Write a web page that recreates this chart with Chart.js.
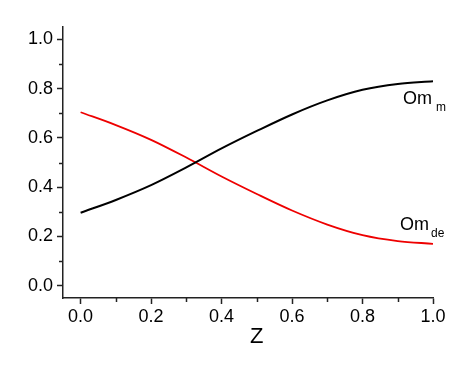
<!DOCTYPE html>
<html>
<head>
<meta charset="utf-8">
<script src="https://cdn.jsdelivr.net/npm/chart.js@4/dist/chart.umd.min.js"></script>
<style>
html,body{margin:0;padding:0;background:#fff;}
#c{display:block;}
</style>
</head>
<body>
<canvas id="c" width="474" height="382"></canvas>
<script>
// Data
const zValues = [0.0, 0.1, 0.2, 0.3, 0.4, 0.5, 0.6, 0.7, 0.8, 0.9, 1.0];
const omM  = [0.296, 0.348, 0.408, 0.480, 0.557, 0.628, 0.695, 0.752, 0.795, 0.819, 0.830];
const omDE = [0.704, 0.652, 0.592, 0.520, 0.443, 0.372, 0.305, 0.248, 0.205, 0.181, 0.170];
const xTicks = [0.0, 0.2, 0.4, 0.6, 0.8, 1.0];
const yTicks = [0.0, 0.2, 0.4, 0.6, 0.8, 1.0];
const seriesNames = ['Om_m', 'Om_de'];
const axisTitleX = 'Z';

const FONT = '"Liberation Sans", Arial, sans-serif';

const minorTicks = {
  id: 'minorTicks',
  afterDraw(chart) {
    const ctx = chart.ctx;
    const xs = chart.scales.x, ys = chart.scales.y;
    const ca = chart.chartArea;
    ctx.save();
    ctx.strokeStyle = '#222';
    ctx.lineWidth = 1.5;
    for (let v = 0.1; v < 1.0; v += 0.2) {
      const px = Math.round(xs.getPixelForValue(v)) + 0.5;
      ctx.beginPath(); ctx.moveTo(px, ca.bottom); ctx.lineTo(px, ca.bottom + 4); ctx.stroke();
      const py = Math.round(ys.getPixelForValue(v)) + 0.5;
      ctx.beginPath(); ctx.moveTo(ca.left, py); ctx.lineTo(ca.left - 4, py); ctx.stroke();
    }
    // Series labels
    ctx.fillStyle = '#000';
    ctx.textBaseline = 'alphabetic';
    const xr = xs.getPixelForValue(1.0);
    // Om_m
    ctx.font = '18px ' + FONT;
    ctx.textAlign = 'right';
    let yb = ys.getPixelForValue(0.7376);
    ctx.fillText('Om', xr - 1, yb);
    ctx.font = '12px ' + FONT;
    ctx.textAlign = 'left';
    ctx.fillText('m', xr + 3, yb + 7);
    // Om_de
    ctx.font = '18px ' + FONT;
    ctx.textAlign = 'right';
    yb = ys.getPixelForValue(0.226);
    ctx.fillText('Om', xr - 4, yb);
    ctx.font = '12px ' + FONT;
    ctx.textAlign = 'left';
    ctx.fillText('de', xr - 2, yb + 7);
    // Axis title
    ctx.font = '22px ' + FONT;
    ctx.textAlign = 'center';
    ctx.fillText(axisTitleX, xs.getPixelForValue(0.5), ca.bottom + 45);
    ctx.restore();
  }
};

new Chart(document.getElementById('c'), {
  type: 'line',
  data: {
    datasets: [
      { label: seriesNames[0], data: zValues.map((z, i) => ({x: z, y: omM[i]})),
        borderColor: '#000000', borderWidth: 2, pointRadius: 0, cubicInterpolationMode: 'monotone', fill: false },
      { label: seriesNames[1], data: zValues.map((z, i) => ({x: z, y: omDE[i]})),
        borderColor: '#ee0000', borderWidth: 1.8, pointRadius: 0, cubicInterpolationMode: 'monotone', fill: false }
    ]
  },
  options: {
    responsive: false,
    animation: false,
    devicePixelRatio: 1,
    layout: { padding: { left: 0, top: 27, right: 41, bottom: 0 } },
    plugins: { legend: { display: false }, tooltip: { enabled: false } },
    scales: {
      x: {
        type: 'linear', min: -0.05, max: 1.0,
        afterBuildTicks: s => { s.ticks = xTicks.map(v => ({value: v})); },
        afterFit: s => { s.height = 84; },
        border: { display: true, color: '#222', width: 1.5 },
        grid: { drawOnChartArea: false, drawTicks: true, tickLength: 6, tickColor: '#222', tickWidth: 1.5 },
        ticks: { color: '#000', font: { size: 18, family: FONT }, padding: 2, maxRotation: 0,
                 callback: v => Number(v).toFixed(1) }
      },
      y: {
        type: 'linear', min: -0.05, max: 1.05,
        afterBuildTicks: s => { s.ticks = yTicks.map(v => ({value: v})); },
        afterFit: s => { s.width = 63; },
        border: { display: true, color: '#222', width: 1.5 },
        grid: { drawOnChartArea: false, drawTicks: true, tickLength: 6, tickColor: '#222', tickWidth: 1.5 },
        ticks: { color: '#000', font: { size: 18, family: FONT }, padding: 4,
                 callback: v => Number(v).toFixed(1) }
      }
    }
  },
  plugins: [minorTicks]
});
</script>
</body>
</html>
